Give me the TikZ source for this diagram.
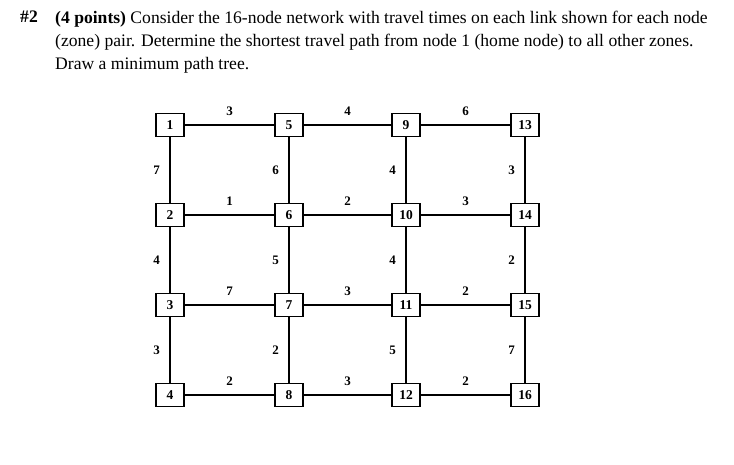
\documentclass[tikz,border=0pt]{standalone}
\usepackage{fontspec}
\setmainfont{Liberation Serif}
\begin{document}
\begin{tikzpicture}[x=1pt,y=-1pt,
  zone/.style={draw,line width=1.6pt,minimum width=28pt,minimum height=23pt,inner sep=1pt,font=\fontsize{13.5}{13.5}\selectfont\bfseries},
  link/.style={line width=1.6pt},
  lab/.style={font=\fontsize{13}{13}\selectfont\bfseries},
  txt/.style={font=\fontsize{17.6}{23}\selectfont,anchor=north west,align=left,inner sep=0pt}]
\useasboundingbox (0,0) rectangle (734,465);
\node[txt] (hash) at (20,11) {\textbf{\#2}};
\node[txt] (q) at (55,11) {\textbf{(4 points)} Consider the 16-node network with travel times on each link shown for each node\\(zone) pair. Determine the shortest travel path from node 1 (home node) to all other zones.\\Draw a minimum path tree.};
\foreach \c/\x in {0/170,1/289,2/406,3/525}{
  \foreach \r/\y in {0/125,1/215,2/305,3/395}{
    \pgfmathtruncatemacro\n{\c*4+\r+1}
    \node[zone] (n\n) at (\x,\y) {\n};
  }
}
\foreach \a/\b/\w in {1/5/3,5/9/4,9/13/6,2/6/1,6/10/2,10/14/3,3/7/7,7/11/3,11/15/2,4/8/2,8/12/3,12/16/2}{
  \draw[link] (n\a) -- node[lab,above=5pt] {\w} (n\b);
}
\foreach \a/\b/\w in {1/2/7,5/6/6,9/10/4,13/14/3,2/3/4,6/7/5,10/11/4,14/15/2,3/4/3,7/8/2,11/12/5,15/16/7}{
  \draw[link] (n\a) -- node[lab,left=6pt] {\w} (n\b);
}
\end{tikzpicture}
\end{document}
